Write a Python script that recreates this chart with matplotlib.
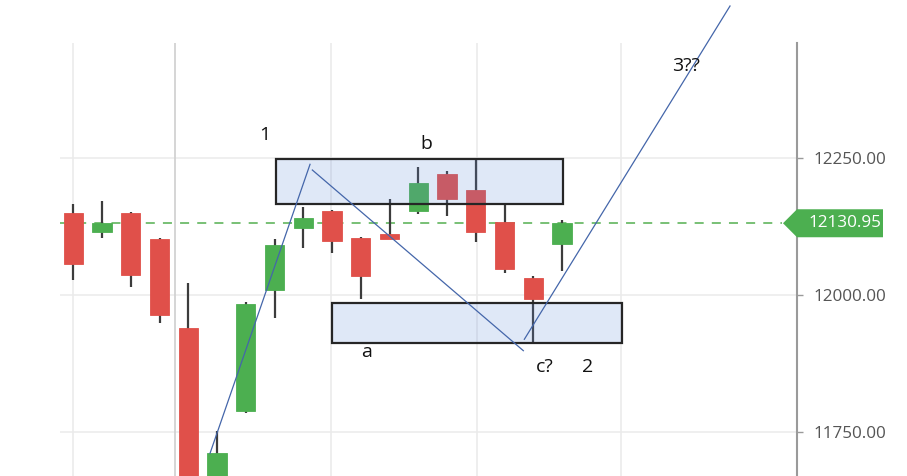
import matplotlib
matplotlib.use("Agg")
import matplotlib.pyplot as plt
from matplotlib.patches import Rectangle, Polygon

# ---- data (prices) ----
opens  = [12150.2, 12115.0, 12150.2, 12101.6, 11940.3, 11645.0, 11788.9, 12009.1, 12121.7,
          12153.3, 12104.6, 12110.8, 12153.8, 12220.8, 12191.6, 12133.2, 12030.5, 12092.5]
highs  = [12166.1, 12172.1, 12151.5, 12104.9, 12021.4, 11752.4, 11987.8, 12101.6, 12161.1,
          12155.1, 12105.8, 12175.2, 12233.0, 12226.8, 12250.0, 12164.2, 12034.7, 12136.9]
lows   = [12027.4, 12104.6, 12015.1, 11949.5, 11620.0, 11630.0, 11785.2, 11957.5, 12086.3,
          12076.1, 11993.2, 12101.6, 12147.8, 12144.2, 12096.7, 12040.7, 11911.9, 12044.3]
closes = [12056.6, 12131.9, 12037.0, 11962.9, 11640.0, 11711.1, 11983.0, 12091.2, 12140.0,
          12099.1, 12034.7, 12101.6, 12204.9, 12175.7, 12115.0, 12046.9, 11992.2, 12130.95]

last_price = 12130.95
price_ticks = [11750.0, 12000.0, 12250.0]
price_tick_labels = ["11750.00", "12000.00", "12250.00"]

# zones: (x_start, x_end, y_low, y_high) in candle index / price
zone_b = (7.05, 17.04, 12165.5, 12247.6)
zone_a = (9.01, 19.07, 11911.9, 11985.9)

# wave lines (candle index, price)
wave_x = [[4.755, 8.233], [8.313, 15.652], [15.687, 22.84]]
wave_y = [[11711.1, 12238.5], [12228.1, 11898.4], [11919.2, 12527.4]]

wave_labels = ["1", "b", "a", "c?", "2", "3??"]
wave_label_x = [6.66, 12.28, 10.21, 16.4, 17.9, 21.3]
wave_label_y = [12292.0, 12275.0, 11896.0, 11868.6, 11868.6, 12418.0]

grid_x_light = [0.0, 8.97, 14.04, 19.05]
grid_x_dark = [3.53]

# ---- figure ----
RED = "#e0504a"
GREEN = "#4caf50"
WICK = "#3c3c3c"

fig = plt.figure(figsize=(9.07, 4.76), dpi=100)
ax = fig.add_axes([60 / 907, 0, 737 / 907, 433 / 476])
ax.set_xlim(-0.463, 25.17)
ax.set_ylim(11669.7, 12459.9)

# grid
for yv in price_ticks:
    ax.axhline(yv, color="#eeeeee", lw=1.3, zorder=0)
for xv in grid_x_light:
    ax.axvline(xv, color="#ebebeb", lw=1.2, zorder=0)
for xv in grid_x_dark:
    ax.axvline(xv, color="#d2d2d2", lw=1.3, zorder=0)

# last price dashed line
ax.plot([-0.463, 24.65], [last_price, last_price], color="#6dbb6a",
        lw=1.3, dashes=(5, 4.5), zorder=1)

# candles
w = 0.67
for i, (o, h, l, c) in enumerate(zip(opens, highs, lows, closes)):
    col = GREEN if c >= o else RED
    ax.plot([i, i], [l, h], color=WICK, lw=1.6, zorder=2, solid_capstyle="butt")
    ax.add_patch(Rectangle((i - w / 2, min(o, c)), w, abs(c - o),
                           facecolor=col, edgecolor=col, lw=0.6, zorder=3))

# zones
for (x0, x1, y0, y1) in (zone_b, zone_a):
    ax.add_patch(Rectangle((x0, y0), x1 - x0, y1 - y0, facecolor=(0.39, 0.55, 0.86, 0.2),
                           edgecolor="none", zorder=4))
    ax.add_patch(Rectangle((x0, y0), x1 - x0, y1 - y0, facecolor="none",
                           edgecolor="#262626", lw=1.6, zorder=4.5))

# wave lines
for xs, ys in zip(wave_x, wave_y):
    ax.plot(xs, ys, color="#4466aa", lw=0.9, zorder=5, clip_on=False)

for t, x, y in zip(wave_labels, wave_label_x, wave_label_y):
    ax.text(x, y, t, fontsize=14, family="Open Sans", color="#111111",
            ha="center", va="center", zorder=6, clip_on=False)

# axes styling
for s in ("top", "left", "bottom"):
    ax.spines[s].set_visible(False)
ax.spines["right"].set_color("#9a9a9a")
ax.spines["right"].set_linewidth(1.5)
ax.set_xticks([])
ax.yaxis.tick_right()
ax.set_yticks(price_ticks)
ax.set_yticklabels(price_tick_labels)
ax.tick_params(axis="y", colors="#9a9a9a", length=4, width=1, pad=8,
               labelcolor="#555555", labelsize=12.3)
for lab in ax.get_yticklabels():
    lab.set_family("Open Sans")

# last price tag
trans = ax.get_yaxis_transform()
aw = 737.0
dy = 14 * (12459.9 - 11669.7) / 433.0
tag = Polygon([(1 - 14 / aw, last_price), (1.0, last_price + dy), (1 + 86 / aw, last_price + dy),
               (1 + 86 / aw, last_price - dy), (1.0, last_price - dy)],
              closed=True, transform=trans, facecolor=GREEN, edgecolor="none",
              clip_on=False, zorder=7)
ax.add_patch(tag)
ax.text(1 + 11 / aw, last_price, f"{last_price:.2f}", transform=trans, color="white",
        fontsize=12.3, family="Open Sans", ha="left", va="center", zorder=8, clip_on=False)

fig.savefig("out.png", dpi=100)
